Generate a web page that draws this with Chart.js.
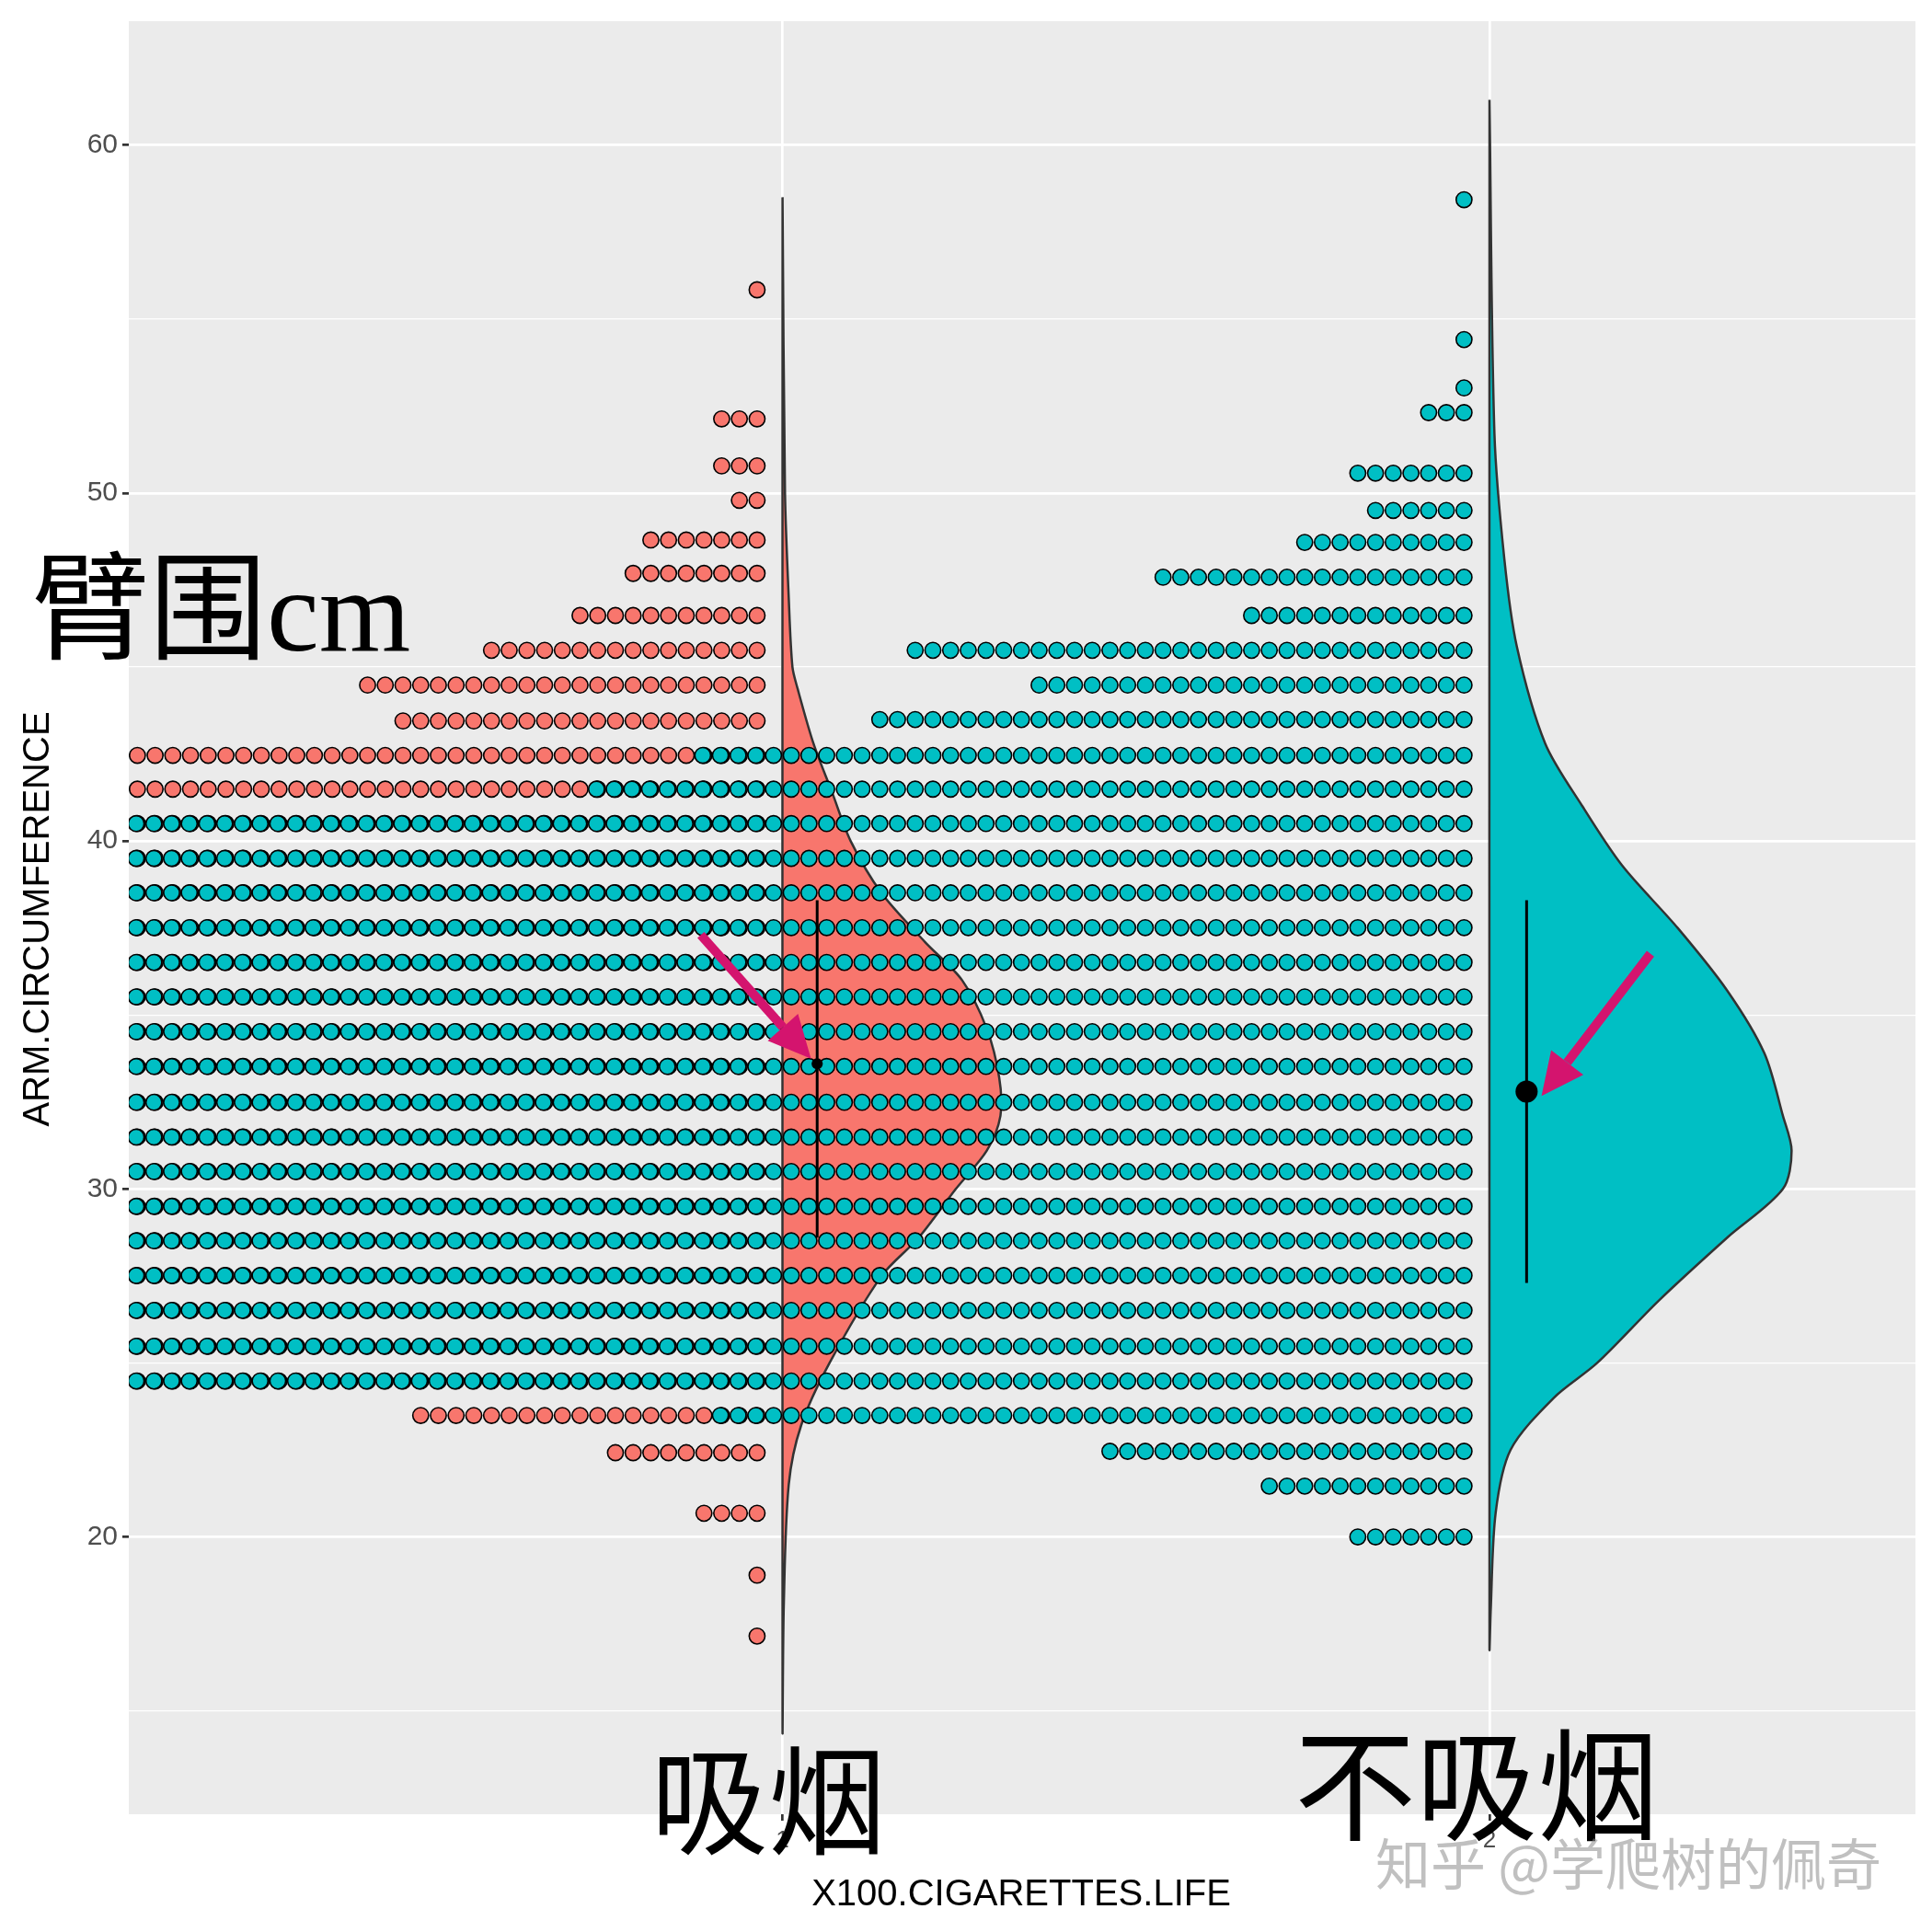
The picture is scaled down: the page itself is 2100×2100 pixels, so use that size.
<!DOCTYPE html>
<html><head><meta charset="utf-8">
<script src="https://cdn.jsdelivr.net/npm/chart.js@4"></script>
<style>html,body{margin:0;padding:0;background:#fff}</style>
</head><body>
<canvas id="c" width="2100" height="2100" style="width:2100px;height:2100px"></canvas>
<script>
// ---- data ----
const categories = ['吸烟', '不吸烟'];
const smokeRowY =   [55.84,52.13,50.78,49.79,48.65,47.69,46.48,45.48,44.48,43.45,42.46,41.49,40.5,39.5,38.51,37.51,36.51,35.52,34.52,33.52,32.49,31.49,30.5,29.5,28.51,27.51,26.51,25.48,24.48,23.49,22.42,20.68,18.9,17.15];
const smokeCounts = [1,3,3,2,7,8,11,16,23,21,40,36,45,50,52,55,56,58,58,60,60,60,58,56,55,52,50,48,45,20,9,4,1,1];
const nonRowY =     [58.43,54.41,53.02,52.31,50.57,49.5,48.58,47.58,46.48,45.48,44.48,43.49,42.46,41.49,40.5,39.5,38.51,37.51,36.51,35.52,34.52,33.52,32.49,31.49,30.5,29.5,28.51,27.51,26.51,25.48,24.48,23.49,22.46,21.46,20.0];
const nonCounts =   [1,1,1,3,7,6,10,18,13,32,25,34,44,50,80,80,80,80,80,80,80,80,80,80,80,80,80,80,80,80,80,43,21,12,7];
const smokeDensY = [58.5,50,47,45,44.4,42.8,41.4,40,38.5,37.1,36,34.6,33.2,32.1,31.1,30,28.6,27.5,25,23.2,21.5,18,14.5];
const smokeDensW = [0,2,5,8,12,25,40,55,80,115,145,165,175,176,165,140,110,80,38,15,5,1,0];
const nonDensY = [61.3,51.7,48.1,45.6,42.8,41,39.3,37.5,35.7,33.9,32.1,31.1,30,28.6,26.8,25,24,22.5,20.7,17.9,16.8];
const nonDensW = [0,4,12,22,45,75,107,152,192,222,237,244,237,192,137,87,52,17,5,1,0];
const smokeInterval = {lo:28.6, hi:38.3, mid:33.6};
const nonInterval = {lo:27.3, hi:38.3, mid:32.8};
const arrows = [ {x0:0.8844,y0:37.3,x1:1.0403,y1:33.74}, {x0:2.2277,y0:36.76,x1:2.0736,y1:32.67} ];
const yTicks = [15,20,25,30,35,40,45,50,55,60];
const xTicks = [1,2];

// ---- build ----
const PXU = 571; // reference px per x unit
const step = 14.3/PXU, off = 0.036;
function dots(base, ys, counts){ const a=[]; ys.forEach((y,i)=>{ for(let k=0;k<counts[i];k++) a.push({x:base-off-k*step,y}); }); return a; }
function dens(base, ys, ws){ const a=ys.map((y,i)=>({x:base+ws[i]/PXU,y})); a.push({x:base,y:ys[0]}); return a; }
const RED='#F8766D', TEAL='#00BFC4';

const textPlugin = {
  id:'txt',
  afterDraw(ch){
    const c=ch.ctx, xs=ch.scales.x, ys=ch.scales.y;
    c.save();
    c.strokeStyle='#D4146E'; c.fillStyle='#D4146E'; c.lineWidth=10; c.lineCap='butt';
    arrows.forEach(a=>{
      const X0=xs.getPixelForValue(a.x0),Y0=ys.getPixelForValue(a.y0),X1=xs.getPixelForValue(a.x1),Y1=ys.getPixelForValue(a.y1);
      const ang=Math.atan2(Y1-Y0,X1-X0), L=46, W=22;
      const bx=X1-L*Math.cos(ang), by=Y1-L*Math.sin(ang);
      c.beginPath(); c.moveTo(X0,Y0); c.lineTo(bx,by); c.stroke();
      c.beginPath(); c.moveTo(X1,Y1);
      c.lineTo(bx+W*Math.sin(ang), by-W*Math.cos(ang));
      c.lineTo(bx-W*Math.sin(ang), by+W*Math.cos(ang)); c.closePath(); c.fill();
    });
    c.fillStyle='#000'; c.textAlign='left'; c.textBaseline='alphabetic';
    c.font='128px "Liberation Serif","Noto Sans CJK SC"';
    c.fillText('臂围cm', 34, 707);
    c.textAlign='center'; c.textBaseline='middle';
    c.font='128px "Liberation Serif","Noto Sans CJK SC"';
    c.fillText(categories[0], 835, 1972);
    c.font='132px "Liberation Serif","Noto Sans CJK SC"';
    c.fillText(categories[1], 1605, 1955);
    c.font='40px "Liberation Sans"';
    c.fillText('X100.CIGARETTES.LIFE', 1110, 2060);
    c.save(); c.translate(42,999); c.rotate(-Math.PI/2); c.fillText('ARM.CIRCUMFERENCE',0,0); c.restore();
    c.font='60px "Noto Sans CJK SC"'; c.fillStyle='rgba(140,140,140,0.55)';
    c.fillText('知乎 @学爬树的佩奇', 1770, 2026);
    c.restore();
  }
};
const bgPlugin = { id:'bg', beforeDraw(ch){ const a=ch.chartArea,c=ch.ctx; c.save(); c.fillStyle='#EBEBEB'; c.fillRect(a.left,a.top,a.right-a.left,a.bottom-a.top); c.restore(); } };

new Chart(document.getElementById('c'), {
  type:'scatter',
  data:{ datasets:[
    {data:dens(1,smokeDensY,smokeDensW), showLine:true, fill:'shape', tension:0.3, backgroundColor:RED, borderColor:'#333', borderWidth:2.5, pointRadius:0, order:10},
    {data:dots(1,smokeRowY,smokeCounts), backgroundColor:RED, borderColor:'#000', borderWidth:1.6, pointRadius:8.6, order:9},
    {data:dens(2,nonDensY,nonDensW), showLine:true, fill:'shape', tension:0.3, backgroundColor:TEAL, borderColor:'#333', borderWidth:2.5, pointRadius:0, order:8},
    {data:dots(2,nonRowY,nonCounts), backgroundColor:TEAL, borderColor:'#000', borderWidth:1.6, pointRadius:8.6, order:7},
    {data:[{x:1.049,y:smokeInterval.lo},{x:1.049,y:smokeInterval.hi}], showLine:true, borderColor:'#000', borderWidth:3, pointRadius:0, order:2},
    {data:[{x:1.049,y:smokeInterval.mid}], backgroundColor:'#000', pointRadius:6, order:1},
    {data:[{x:2.0525,y:nonInterval.lo},{x:2.0525,y:nonInterval.hi}], showLine:true, borderColor:'#000', borderWidth:3, pointRadius:0, order:2},
    {data:[{x:2.0525,y:nonInterval.mid}], backgroundColor:'#000', pointRadius:12, order:1}
  ]},
  options:{
    responsive:false, animation:false, devicePixelRatio:1,
    layout:{padding:{top:23,right:18,left:0,bottom:0}},
    plugins:{legend:{display:false},tooltip:{enabled:false}},
    scales:{
      x:{type:'linear',min:0.0753,max:2.6025,
        afterBuildTicks(s){ s.ticks=xTicks.map(v=>({value:v})); },
        afterFit(s){ s.height=128; },
        grid:{color:'#fff',lineWidth:2.7,tickColor:'#333',tickLength:7,drawTicks:true},
        border:{display:false},
        ticks:{font:{size:26,family:'Liberation Sans'},color:'#4D4D4D',padding:6,callback:v=>String(v)}},
      y:{type:'linear',min:12.03,max:63.56,
        afterBuildTicks(s){ s.ticks=yTicks.map(v=>({value:v})); },
        afterFit(s){ s.width=140; },
        grid:{color:'#fff',lineWidth:c=>(c.tick&&c.tick.value%10===0)?2.7:1.3,tickColor:c=>(c.tick&&c.tick.value%10===0)?'#333':'rgba(0,0,0,0)',tickLength:7},
        border:{display:false},
        ticks:{font:{size:30,family:'Liberation Sans'},color:'#4D4D4D',padding:5,callback:v=>v%10===0?String(v):''}}
    }
  },
  plugins:[bgPlugin,textPlugin]
});
</script></body></html>
